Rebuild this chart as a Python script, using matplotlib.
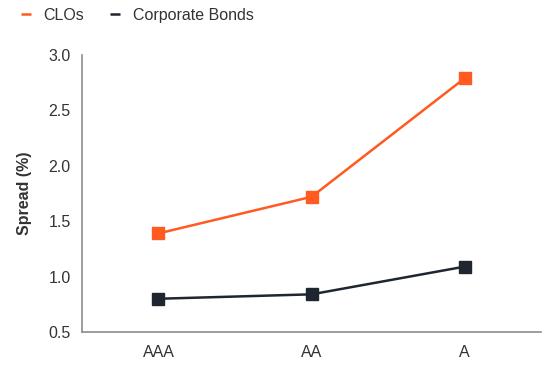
import matplotlib
matplotlib.use("Agg")
import matplotlib.pyplot as plt

# data
ratings = ["AAA", "AA", "A"]
clos = [1.39, 1.72, 2.79]
corp_bonds = [0.80, 0.84, 1.09]
yticks = [0.5, 1.0, 1.5, 2.0, 2.5, 3.0]

plt.rcParams['font.family'] = ['Liberation Sans', 'DejaVu Sans']

orange = "#FF5A1F"
dark = "#1F2630"
grey = "#8A8D91"

fig = plt.figure(figsize=(5.5, 3.65), dpi=100)
ax = fig.add_axes([0.149, 0.0904, 0.835, 0.759])

x = range(len(ratings))
ax.plot(x, clos, color=orange, lw=1.8, marker="s", ms=9, label="CLOs")
ax.plot(x, corp_bonds, color=dark, lw=1.8, marker="s", ms=9, label="Corporate Bonds")

ax.set_xlim(-0.5, 2.5)
ax.set_ylim(0.5, 3.0)
ax.set_xticks(list(x))
ax.set_xticklabels(ratings)
ax.set_yticks(yticks)
ax.set_yticklabels([f"{v:.1f}" for v in yticks])
ax.tick_params(length=0, labelsize=11.5, colors="#333333", pad=8)
ax.tick_params(axis="x", pad=9)

for s in ["top", "right"]:
    ax.spines[s].set_visible(False)
for s in ["left", "bottom"]:
    ax.spines[s].set_color(grey)
    ax.spines[s].set_linewidth(1.2)

ax.set_ylabel("Spread (%)", fontsize=11.5, fontweight="bold", color="#333333", labelpad=12)

ax.legend(loc="lower left", bbox_to_anchor=(-0.165, 1.065), ncol=2, frameon=False,
          fontsize=11.5, handlelength=0.65, handletextpad=0.8, columnspacing=1.6,
          labelcolor="#333333")
leg = ax.get_legend()
for h in leg.legend_handles:
    h.set_marker("")
    h.set_solid_capstyle("butt")

fig.savefig("out.png", dpi=100)
